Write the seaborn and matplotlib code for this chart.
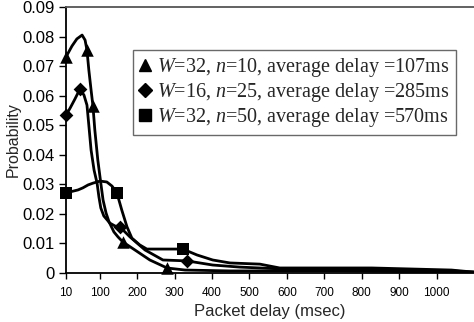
import matplotlib
matplotlib.use("Agg")
import matplotlib.pyplot as plt
from matplotlib.lines import Line2D
import seaborn as sns
import pandas as pd

# ---- data ----
tri_x = [10, 26, 39, 53, 61, 66, 71, 77, 82, 87, 95, 103, 109, 117, 125, 138, 149, 162, 194, 234, 280, 328, 448, 741, 1040, 1099]
tri_y = [0.0731, 0.0768, 0.0792, 0.0805, 0.0788, 0.0754, 0.0687, 0.0619, 0.0565, 0.0484, 0.0382, 0.0304, 0.0247, 0.0203, 0.0173, 0.0139, 0.0122, 0.0105, 0.0078, 0.0044, 0.0017, 0.0010, 0.0007, 0.0007, 0.0003, 0.0003]
tri_mx = [10, 66, 82, 162, 280]
tri_my = [0.0731, 0.0754, 0.0565, 0.0105, 0.0017]

dia_x = [10, 21, 34, 47, 58, 66, 71, 77, 85, 93, 98, 103, 111, 127, 141, 154, 181, 221, 269, 333, 402, 474, 581, 827, 1040, 1099]
dia_y = [0.0534, 0.0558, 0.0589, 0.0622, 0.0602, 0.0568, 0.0500, 0.0416, 0.0348, 0.0304, 0.0257, 0.0220, 0.0193, 0.0169, 0.0159, 0.0156, 0.0122, 0.0078, 0.0044, 0.0041, 0.0027, 0.0020, 0.0014, 0.0010, 0.0007, 0.0003]
dia_mx = [10, 47, 154, 333]
dia_my = [0.0534, 0.0622, 0.0156, 0.0041]

sq_x = [10, 29, 42, 55, 69, 82, 101, 119, 133, 146, 159, 173, 186, 207, 226, 322, 360, 402, 448, 528, 581, 827, 1040, 1099]
sq_y = [0.0271, 0.0277, 0.0281, 0.0288, 0.0298, 0.0304, 0.0311, 0.0308, 0.0294, 0.0271, 0.0213, 0.0156, 0.0118, 0.0095, 0.0081, 0.0081, 0.0061, 0.0044, 0.0034, 0.0030, 0.0017, 0.0017, 0.0010, 0.0003]
sq_mx = [10, 146, 322]
sq_my = [0.0271, 0.0271, 0.0081]

labels = ["$W$=32, $n$=10, average delay =107ms",
          "$W$=16, $n$=25, average delay =285ms",
          "$W$=32, $n$=50, average delay =570ms"]
markers = ["^", "D", "s"]

x_ticks = [10, 100, 200, 300, 400, 500, 600, 700, 800, 900, 1000]
x_ticklabels = ["10", "100", "200", "300", "400", "500", "600", "700", "800", "900", "1000"]
y_ticks = [0, 0.01, 0.02, 0.03, 0.04, 0.05, 0.06, 0.07, 0.08, 0.09]
y_ticklabels = ["0", "0.01", "0.02", "0.03", "0.04", "0.05", "0.06", "0.07", "0.08", "0.09"]

# ---- plot ----
sns.set_style("ticks")
plt.rcParams["font.family"] = ["Liberation Sans", "DejaVu Sans"]
plt.rcParams["mathtext.fontset"] = "custom"
plt.rcParams["mathtext.it"] = "Liberation Serif:italic"
plt.rcParams["mathtext.rm"] = "Liberation Serif"

fig = plt.figure(figsize=(4.74, 3.22), dpi=100)
ax = fig.add_axes([66 / 474, 49 / 322, 1 - 66 / 474, 266 / 322])

series = [(tri_x, tri_y, tri_mx, tri_my, 9),
          (dia_x, dia_y, dia_mx, dia_my, 7),
          (sq_x, sq_y, sq_mx, sq_my, 8)]
for (cx, cy, mx, my, ms), mk in zip(series, markers):
    df = pd.DataFrame({"x": cx, "y": cy})
    sns.lineplot(data=df, x="x", y="y", sort=False, color="black", lw=2.0, ax=ax, estimator=None)
    dm = pd.DataFrame({"x": mx, "y": my})
    sns.scatterplot(data=dm, x="x", y="y", marker=mk, color="black", s=ms ** 2,
                    edgecolor="black", linewidth=0, ax=ax, zorder=5, clip_on=False)

ax.set_xlim(10, 1100)
ax.set_ylim(0, 0.09)
ax.set_xticks(x_ticks)
ax.set_xticklabels(x_ticklabels, fontsize=8.5)
ax.set_yticks(y_ticks)
ax.set_yticklabels(y_ticklabels, fontsize=12)
ax.tick_params(axis="x", length=4, width=1, pad=6, colors="black")
ax.tick_params(axis="y", length=5, width=1, pad=3, colors="black")
ax.set_xlabel("Packet delay (msec)", fontsize=12, labelpad=4)
ax.set_ylabel("Probability", fontsize=11.5, labelpad=1)

for side in ["left", "bottom", "top"]:
    ax.spines[side].set_visible(True)
    ax.spines[side].set_color("black")
    ax.spines[side].set_linewidth(1.3)
ax.spines["top"].set_color("#555555")
ax.spines["right"].set_visible(False)

handles = [Line2D([], [], marker=m, color="black", linestyle="none", markersize=s)
           for m, s in zip(markers, [9, 7, 8])]
leg = ax.legend(handles, labels, loc="upper left", bbox_to_anchor=(0.164, 0.84),
                prop={"family": "Liberation Serif", "size": 14.5},
                frameon=True, fancybox=False, edgecolor="#444444",
                handlelength=0.6, handletextpad=0.3, borderpad=0.3,
                labelspacing=0.1, borderaxespad=0)
leg.get_frame().set_linewidth(1.0)

fig.savefig("out.png", dpi=100)
